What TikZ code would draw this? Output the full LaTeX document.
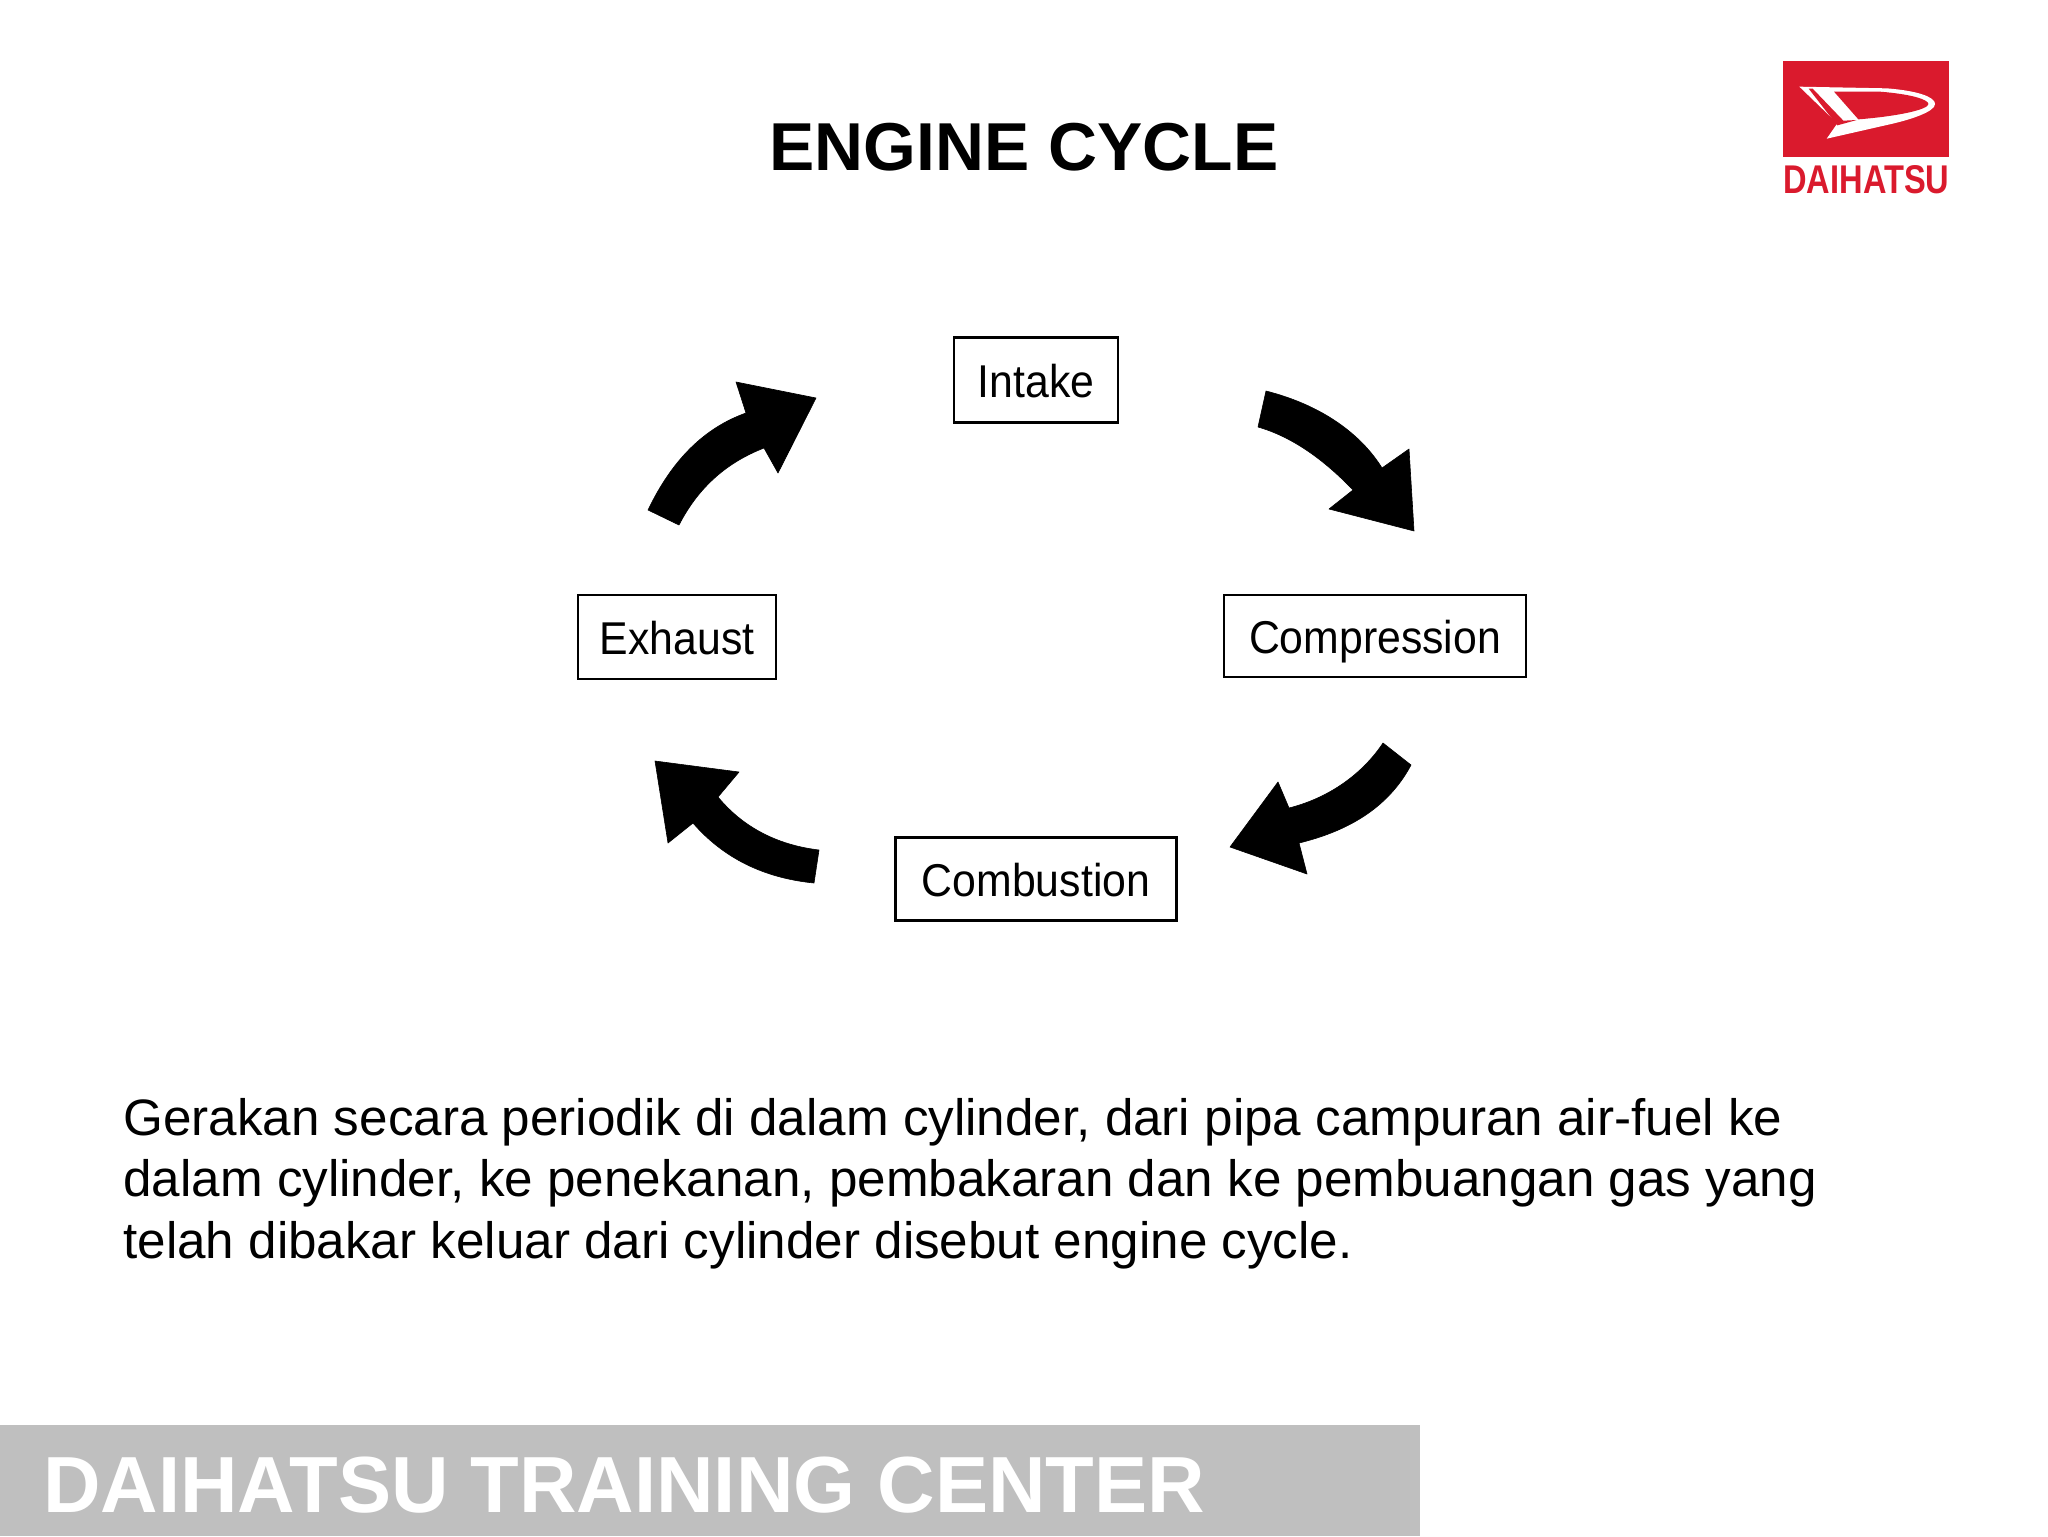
\documentclass[tikz,border=0pt]{standalone}
\usepackage{fontspec}
\usepackage{graphicx}
\setmainfont{Liberation Sans}
\newfontfamily\stagefont[FakeStretch=0.93]{Liberation Sans}
\definecolor{logored}{HTML}{DA1A2D}
\definecolor{footgray}{HTML}{BFBFBF}
\tikzset{
  stagebox/.style={draw=black,line width=1.2pt,fill=white,inner sep=0pt,align=center,text height=17.5pt,text depth=0pt,font=\stagefont\fontsize{23}{27}\selectfont},
  blockarrow/.style={fill=black,draw=black,line width=0.3pt,line join=round},
  emblemwhite/.style={fill=white,draw=none},
  emblemred/.style={fill=logored,draw=none}
}
\begin{document}
\begin{tikzpicture}[x=0.5pt,y=-0.5pt]
\useasboundingbox (0,0) rectangle (2048,1536);
\fill[white] (0,0) rectangle (2048,1536);
% title
\node[anchor=base,inner sep=0pt,font=\fontsize{33.9}{40}\selectfont\bfseries] (title) at (1024,170) {ENGINE CYCLE};
% logo
\fill[logored] (1783,61) rectangle (1949,157);
\begin{scope}[shift={(1760,40)},x=0.1667pt,y=-0.1667pt]
  \fill[emblemwhite] (118,140) -- (380,145) .. controls (470,152) and (525,170) .. (525,192)
     .. controls (525,215) and (450,240) .. (380,255) -- (200,296) -- (232,250) -- cycle;
  \fill[emblemred] (222,155) -- (360,155) .. controls (450,162) and (505,178) .. (505,192)
     .. controls (505,208) and (420,228) .. (295,238) -- cycle;
  \fill[emblemred] (146,146) -- (158,146) -- (250,242) -- (290,240) -- (232,256) -- (222,244) -- cycle;
\end{scope}
\node[anchor=south west,inner sep=0pt,text=logored,font=\bfseries] (logotext) at (1783,194) {\resizebox{83pt}{14pt}{DAIHATSU}};
% stages
\node[stagebox,minimum width=82pt,minimum height=42.5pt] (intake) at (1036,380) {Intake};
\node[stagebox,minimum width=151pt,minimum height=41pt] (compression) at (1375,636) {Compression};
\node[stagebox,minimum width=140.5pt,minimum height=41.5pt] (combustion) at (1036,879) {Combustion};
\node[stagebox,minimum width=99pt,minimum height=42pt] (exhaust) at (677,637) {Exhaust};
% block arrows
\fill[blockarrow] (648,510) -- (679,525) .. controls (699,486) and (728,462) .. (764,448) -- (778,473) -- (816,398) -- (736,382) -- (746,413) .. controls (704,428) and (672,460) .. cycle;
\fill[blockarrow] (1266,391) -- (1258,427) .. controls (1291.7,436.7) and (1323.3,459) .. (1353,490) -- (1329,509) -- (1414,531) -- (1409,449) -- (1382,468) .. controls (1360.7,433.7) and (1321.3,405) .. cycle;
\fill[blockarrow] (1383,743) -- (1411,765) .. controls (1389.7,805) and (1352.3,830) .. (1299,843) -- (1307,874) -- (1230,847) -- (1278,782) -- (1289,808) .. controls (1335,796.3) and (1366,768.7) .. cycle;
\fill[blockarrow] (819,850) -- (814,883) .. controls (763.7,878) and (723.3,858) .. (693,823) -- (668,843) -- (655,761) -- (739,772) -- (718,797) .. controls (743,827.3) and (777.3,845) .. cycle;
% body
\node[anchor=north west,inner sep=0pt,align=left,font=\fontsize{25.6}{30.75}\selectfont] (body) at (123,1097.5) {Gerakan secara periodik di dalam cylinder, dari pipa campuran air-fuel ke\\dalam cylinder, ke penekanan, pembakaran dan ke pembuangan gas yang\\telah dibakar keluar dari cylinder disebut engine cycle.};
% footer
\node[anchor=north west,inner sep=0pt,fill=footgray,minimum width=710pt,minimum height=55.5pt] (footer) at (0,1425) {};
\node[anchor=base west,inner sep=0pt,text=white,font=\fontsize{39.8}{46}\selectfont\bfseries] (foottext) at (43,1512) {DAIHATSU TRAINING CENTER};
\end{tikzpicture}
\end{document}
